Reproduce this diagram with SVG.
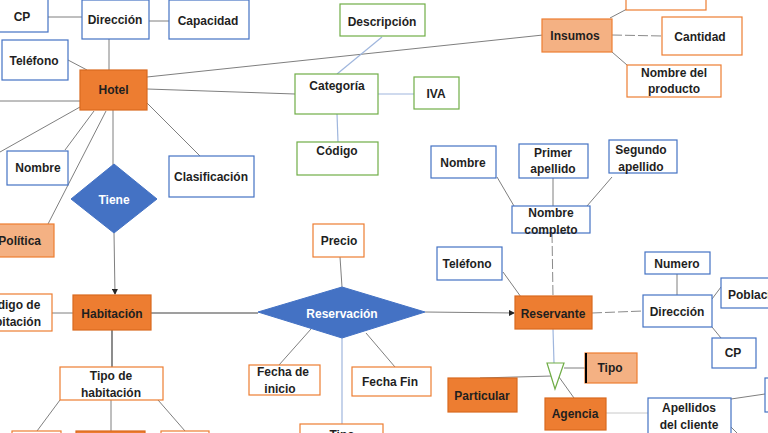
<svg xmlns="http://www.w3.org/2000/svg" width="768" height="433" viewBox="0 0 768 433">
<style>
text{font-family:"Liberation Sans",Arial,sans-serif;font-weight:bold;font-size:12px;fill:#1f1f1f;text-anchor:middle}
text.wt{fill:#ffffff}
.blue{fill:#fff;stroke:#4472C4;stroke-width:1.2}
.ob{fill:#fff;stroke:#ED7D31;stroke-width:1.2}
.gr{fill:#fff;stroke:#70AD47;stroke-width:1.2}
.or{fill:#ED7D31;stroke:#D9691F;stroke-width:1.2}
.sa{fill:#F4B183;stroke:#ED7D31;stroke-width:1.2}
.dia{fill:#4472C4;stroke:#4472C4}
.l{stroke:#7f7f7f;stroke-width:1;fill:none}
.lb{stroke:#9fb6dd;stroke-width:1.2;fill:none}
.lk{stroke:#404040;stroke-width:1.2;fill:none}
.ld{stroke:#8a8a8a;stroke-width:1;fill:none;stroke-dasharray:10 3}
</style>
<defs>
<marker id="arr" markerWidth="6" markerHeight="6" refX="5" refY="3" orient="auto" markerUnits="userSpaceOnUse">
<path d="M0,0 L6,3 L0,6 z" fill="#262626"/>
</marker>
</defs>
<rect width="768" height="433" fill="#ffffff"/>
<g id="connectors">
<line class="l" x1="48" y1="17" x2="82" y2="17"/>
<line class="l" x1="149" y1="21" x2="169" y2="21"/>
<line class="l" x1="109" y1="39" x2="109" y2="70"/>
<line class="l" x1="68" y1="60" x2="87" y2="70"/>
<line class="l" x1="147" y1="77" x2="543" y2="35"/>
<line class="l" x1="147" y1="89" x2="295" y2="94"/>
<line class="l" x1="0" y1="101" x2="80" y2="101"/>
<line class="l" x1="80" y1="107" x2="0" y2="152"/>
<line class="l" x1="94" y1="111" x2="65" y2="150"/>
<line class="l" x1="106" y1="111" x2="48" y2="224"/>
<line class="l" x1="147" y1="103" x2="200" y2="156"/>
<line class="l" x1="113" y1="165" x2="113" y2="110"/>
<circle cx="112" cy="108" r="1.8" fill="#4472C4"/>
<line class="l" x1="114" y1="233" x2="115" y2="294" marker-end="url(#arr)"/>
<line class="lb" x1="382" y1="37" x2="337" y2="74"/>
<line class="lb" x1="378" y1="94" x2="414" y2="94"/>
<line class="lb" x1="337" y1="114" x2="338" y2="142"/>
<line class="l" x1="610" y1="18" x2="627" y2="9"/>
<line class="ld" x1="612" y1="35" x2="662" y2="36"/>
<line class="l" x1="612" y1="52" x2="627" y2="65"/>
<line class="l" x1="52" y1="313" x2="73" y2="313"/>
<line class="lk" x1="151" y1="313" x2="258" y2="313"/>
<line class="lk" x1="112" y1="330" x2="112" y2="367"/>
<line class="l" x1="60" y1="400" x2="37" y2="431"/>
<line class="l" x1="111" y1="400" x2="111" y2="431"/>
<line class="l" x1="158" y1="400" x2="185" y2="431"/>
<line class="l" x1="340" y1="257" x2="342" y2="287"/>
<line class="l" x1="311" y1="329" x2="279" y2="365"/>
<line class="l" x1="366" y1="333" x2="395" y2="367"/>
<line class="lb" x1="342" y1="338" x2="342" y2="424"/>
<line class="l" x1="425" y1="312" x2="514" y2="313" marker-end="url(#arr)"/>
<line class="l" x1="497" y1="177" x2="514" y2="206"/>
<line class="l" x1="553" y1="178" x2="553" y2="206"/>
<line class="l" x1="612" y1="177" x2="587" y2="206"/>
<line class="ld" x1="552" y1="233" x2="553" y2="296"/>
<line class="l" x1="503" y1="272" x2="521" y2="297"/>
<line class="ld" x1="592" y1="313" x2="643" y2="311"/>
<line class="l" x1="677" y1="274" x2="677" y2="295"/>
<line class="l" x1="712" y1="299" x2="721" y2="287"/>
<line class="l" x1="712" y1="327" x2="721" y2="338"/>
<line class="lb" x1="553" y1="329" x2="554" y2="363"/>
<line class="l" x1="564" y1="368" x2="585" y2="368"/>
<line class="l" x1="552" y1="376" x2="480" y2="378"/>
<line class="l" x1="559" y1="377" x2="574" y2="398"/>
<line class="l" x1="606" y1="413" x2="648" y2="413" style="stroke:#c8c8c8"/>
<line class="l" x1="731" y1="399" x2="765" y2="394"/>
<line class="l" x1="731" y1="427" x2="737" y2="433"/>
</g>
<g id="cp-top"><rect class="blue" x="-2" y="-5" width="50" height="37"/><text x="22" y="21">CP</text></g>
<g id="direccion-top"><rect class="blue" x="82" y="0" width="67" height="39"/><text x="115" y="24">Dirección</text></g>
<g id="capacidad"><rect class="blue" x="169" y="0" width="80" height="39"/><text x="208" y="25">Capacidad</text></g>
<g id="telefono-hotel"><rect class="blue" x="2" y="40" width="66" height="40"/><text x="34" y="65">Teléfono</text></g>
<g id="hotel"><rect class="or" x="80" y="70" width="67" height="40"/><text x="113.5" y="94">Hotel</text></g>
<g id="descripcion"><rect class="gr" x="340" y="4" width="85" height="32"/><text x="382" y="26">Descripción</text></g>
<g id="categoria"><rect class="gr" x="295" y="74" width="83" height="40"/><text x="337" y="90">Categoría</text></g>
<g id="iva"><rect class="gr" x="414" y="77" width="45" height="32"/><text x="436" y="98">IVA</text></g>
<g id="codigo-cat"><rect class="gr" x="297" y="142" width="81" height="33"/><text x="337" y="155">Código</text></g>
<g id="insumos-top"><rect class="ob" x="626" y="-10" width="80" height="20"/></g>
<g id="insumos"><rect class="sa" x="542" y="19" width="70" height="33"/><text x="575" y="40">Insumos</text></g>
<g id="cantidad"><rect class="ob" x="662" y="17" width="80" height="38"/><text x="700" y="41">Cantidad</text></g>
<g id="nombre-producto"><rect class="ob" x="627" y="65" width="94" height="32"/><text x="674" y="77">Nombre del</text><text x="674" y="93">producto</text></g>
<g id="nombre-hotel"><rect class="blue" x="7" y="151" width="61" height="34"/><text x="38" y="172">Nombre</text></g>
<g id="tiene"><polygon class="dia" points="114,164 157,199 114,233 71,199"/><text class="wt" x="114" y="204">Tiene</text></g>
<g id="clasificacion"><rect class="blue" x="169" y="156" width="85" height="41"/><text x="211" y="181">Clasificación</text></g>
<g id="politica"><rect class="sa" x="-30" y="224" width="84" height="33"/><text x="41" y="245" style="text-anchor:end">Política</text></g>
<g id="codigo-habitacion"><rect class="ob" x="-40" y="294" width="92" height="37"/><text x="11" y="309">Código de</text><text x="11" y="326">habitación</text></g>
<g id="habitacion"><rect class="or" x="73" y="295" width="78" height="35"/><text x="112" y="318">Habitación</text></g>
<g id="tipo-habitacion"><rect class="ob" x="60" y="367" width="103" height="33"/><text x="111" y="380">Tipo de</text><text x="111" y="397">habitación</text></g>
<g id="hab-sub1"><rect class="ob" x="12" y="431" width="49" height="20"/></g>
<g id="hab-sub2"><rect class="or" x="76" y="431" width="69" height="20"/></g>
<g id="hab-sub3"><rect class="ob" x="161" y="431" width="48" height="20"/></g>
<g id="precio"><rect class="ob" x="313" y="224" width="51" height="33"/><text x="339" y="245">Precio</text></g>
<g id="reservacion"><polygon class="dia" points="342,287 425,312 342,338 258,312"/><text class="wt" x="342" y="318">Reservación</text></g>
<g id="fecha-inicio"><rect class="ob" x="249" y="365" width="71" height="30"/><text x="283" y="376">Fecha de</text><text x="280" y="393">inicio</text></g>
<g id="fecha-fin"><rect class="ob" x="352" y="367" width="79" height="29"/><text x="390" y="386">Fecha Fin</text></g>
<g id="tipo-reserva"><rect class="ob" x="300" y="424" width="83" height="20"/><text x="342" y="439">Tipo</text></g>
<g id="nombre-res"><rect class="blue" x="431" y="146" width="65" height="32"/><text x="463" y="167">Nombre</text></g>
<g id="primer-apellido"><rect class="blue" x="519" y="144" width="69" height="34"/><text x="553" y="157">Primer</text><text x="553" y="173">apellido</text></g>
<g id="segundo-apellido"><rect class="blue" x="609" y="140" width="68" height="33"/><text x="641" y="154">Segundo</text><text x="641" y="171">apellido</text></g>
<g id="nombre-completo"><rect class="blue" x="512" y="206" width="78" height="27"/><text x="551" y="217">Nombre</text><text x="551" y="234">completo</text></g>
<g id="telefono-res"><rect class="blue" x="437" y="247" width="65" height="33"/><text x="467" y="268">Teléfono</text></g>
<g id="reservante"><rect class="or" x="515" y="296" width="77" height="33"/><text x="553" y="318">Reservante</text></g>
<g id="numero"><rect class="blue" x="645" y="252" width="65" height="22"/><text x="677" y="268">Numero</text></g>
<g id="direccion-res"><rect class="blue" x="643" y="295" width="69" height="32"/><text x="677" y="316">Dirección</text></g>
<g id="poblacion"><rect class="blue" x="721" y="278" width="70" height="30"/><text x="728" y="299" style="text-anchor:start">Población</text></g>
<g id="cp-res"><rect class="blue" x="712" y="338" width="44" height="30"/><text x="733" y="357">CP</text></g>
<g id="isa"><polygon points="547,363 564,363 555,389" fill="#fff" stroke="#70AD47" stroke-width="1.2"/></g>
<g id="tipo-cliente"><rect class="sa" x="585" y="353" width="52" height="30"/><line x1="586" y1="353" x2="586" y2="383" stroke="#000" stroke-width="2"/><text x="610" y="372">Tipo</text></g>
<g id="particular"><rect class="or" x="448" y="378" width="69" height="34"/><text x="482" y="400">Particular</text></g>
<g id="agencia"><rect class="or" x="545" y="398" width="61" height="32"/><text x="575" y="418">Agencia</text></g>
<g id="apellidos-cliente"><rect class="blue" x="648" y="398" width="83" height="45"/><text x="689" y="412">Apellidos</text><text x="689" y="429">del cliente</text></g>
<g id="agencia-attr"><rect class="blue" x="765" y="378" width="30" height="34"/></g>
</svg>
